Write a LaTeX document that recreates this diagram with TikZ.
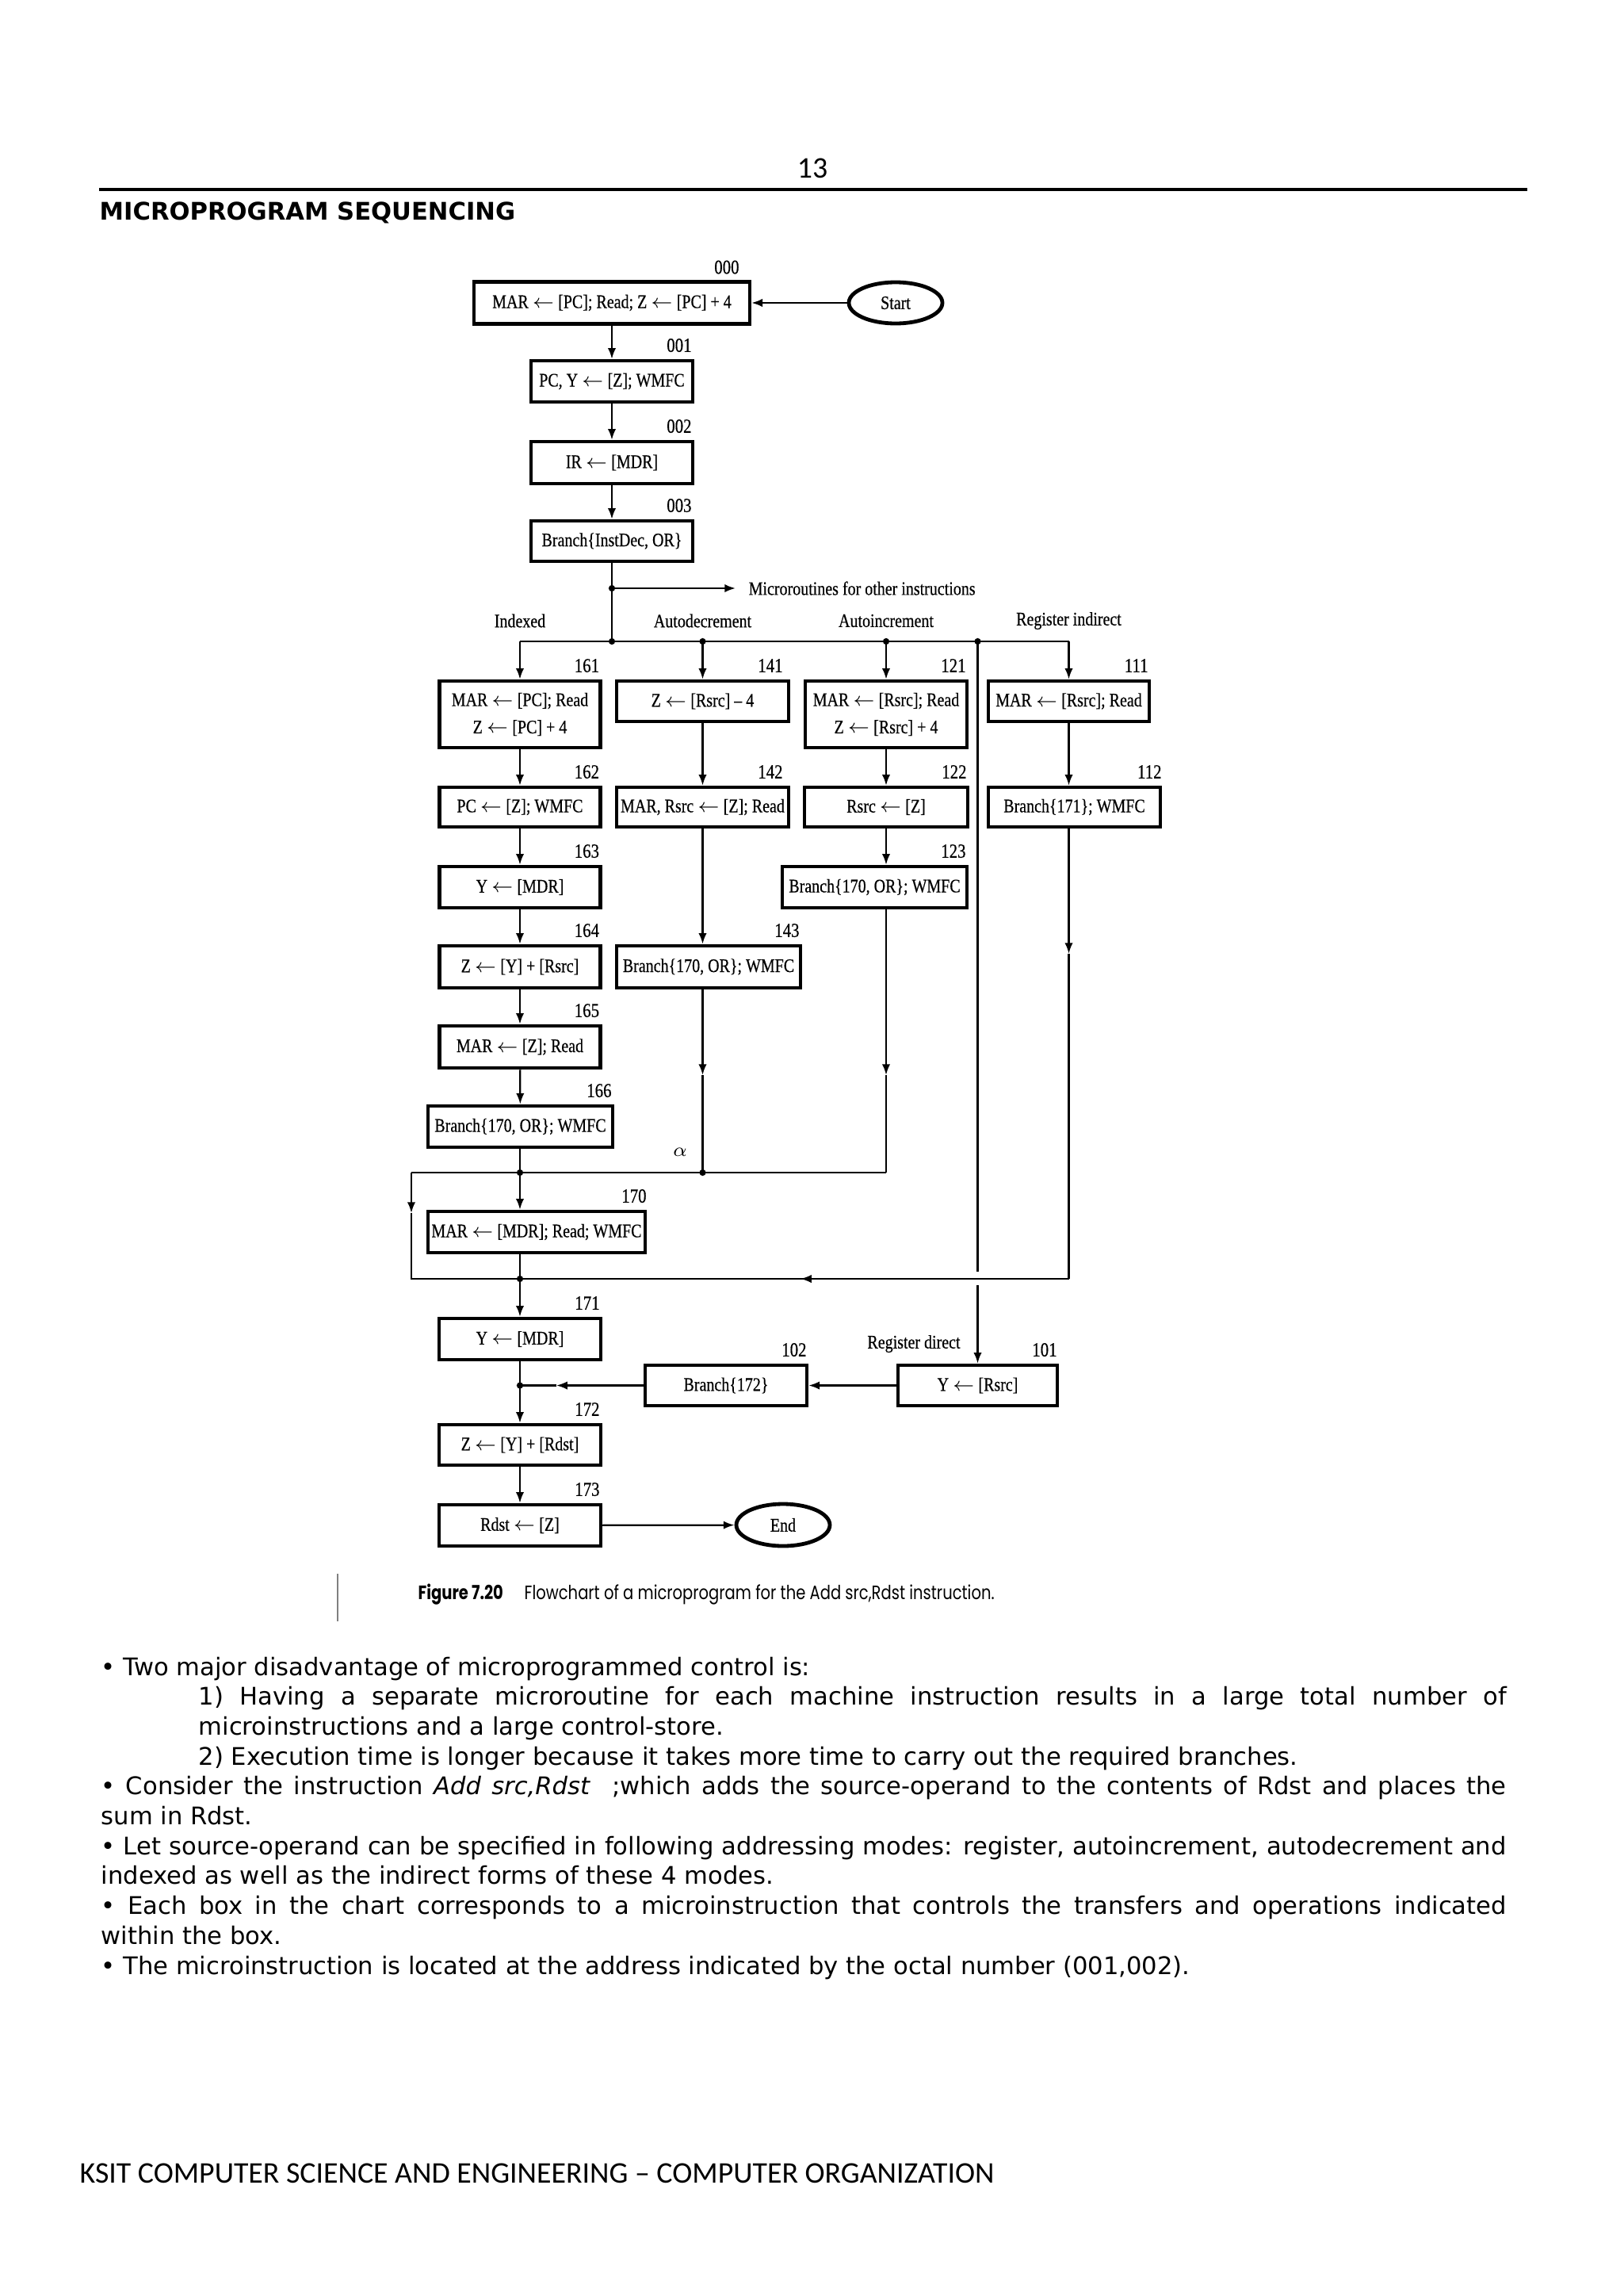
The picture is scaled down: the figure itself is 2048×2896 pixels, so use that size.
\documentclass[tikz,border=0pt]{standalone}
\usepackage{fontspec}
\setmainfont{DejaVu Sans}
\newfontfamily\figfont[FakeStretch=0.83,FakeBold=0.4]{Liberation Serif}
\newfontfamily\calfont{Carlito}
\newfontfamily\capfont[FakeStretch=0.8]{Poppins}
\usetikzlibrary{shapes.geometric,arrows.meta,calc}
\newdimen\pxu \pxu=0.290663pt
\begin{document}
\begin{tikzpicture}[x=0.290663pt,y=-0.290663pt,
  box/.style={draw, line width=1.3pt, inner sep=1pt, align=center,
    font=\figfont\fontsize{7}{10}\selectfont},
  bw/.style={minimum width=#1*\pxu},
  bh/.style={minimum height=#1*\pxu},
  oval/.style={draw, ellipse, line width=1.4pt, inner sep=0pt,
    font=\figfont\fontsize{7}{8}\selectfont},
  ln/.style={line width=0.65pt},
  arr/.style={line width=0.65pt, -{Latex[length=4pt,width=3pt]}},
  addr/.style={font=\figfont\fontsize{7.3}{8}\selectfont, inner sep=0pt, anchor=base east},
  lbl/.style={font=\figfont\fontsize{7}{8}\selectfont, inner sep=0pt},
  body/.style={font=\fontsize{8.9}{10.9}\selectfont, inner sep=0pt, anchor=base west},
  dot/.style={circle, fill=black, inner sep=0pt, minimum size=2.4pt}
]
\useasboundingbox (0,0) rectangle (2048,2896);
\fill[white] (0,0) rectangle (2048,2896);

% ---------- page header ----------
\node[font=\calfont\fontsize{11}{13}\selectfont, inner sep=0pt, anchor=base] (pgno) at (1025,224) {13};
\draw[line width=1pt] (125,239) coordinate (ruleL) -- (1927,239) coordinate (ruleR);
\node[font=\bfseries\fontsize{8.9}{10.9}\selectfont, inner sep=0pt, anchor=base west] (head) at (125,277) {MICROPROGRAM SEQUENCING};

% ---------- flowchart boxes ----------
\node[box,bw=348,bh=53] (b000) at (772,382) {MAR $\leftarrow$ [PC]; Read; Z $\leftarrow$ [PC] + 4};
\node[oval,bw=118,bh=52] (start) at (1130,382) {Start};
\node[box,bw=204,bh=52] (b001) at (772,481) {PC, Y $\leftarrow$ [Z]; WMFC};
\node[box,bw=204,bh=53] (b002) at (772,583.5) {IR $\leftarrow$ [MDR]};
\node[box,bw=204,bh=51] (b003) at (772,682.5) {Branch\{InstDec, OR\}};

\node[box,bw=203,bh=84] (b161) at (656,901) {MAR $\leftarrow$ [PC]; Read\\Z $\leftarrow$ [PC] + 4};
\node[box,bw=217,bh=51] (b141) at (886.5,884.5) {Z $\leftarrow$ [Rsrc] – 4};
\node[box,bw=204,bh=84] (b121) at (1118,901) {MAR $\leftarrow$ [Rsrc]; Read\\Z $\leftarrow$ [Rsrc] + 4};
\node[box,bw=203,bh=51] (b111) at (1348.5,884.5) {MAR $\leftarrow$ [Rsrc]; Read};

\node[box,bw=203,bh=50] (b162) at (656,1018) {PC $\leftarrow$ [Z]; WMFC};
\node[box,bw=217,bh=50] (b142) at (886.5,1018) {MAR, Rsrc $\leftarrow$ [Z]; Read};
\node[box,bw=206,bh=50] (b122) at (1118,1018) {Rsrc $\leftarrow$ [Z]};
\node[box,bw=217,bh=50] (b112) at (1355.5,1018) {Branch\{171\}; WMFC};

\node[box,bw=203,bh=52] (b163) at (656,1119) {Y $\leftarrow$ [MDR]};
\node[box,bw=233,bh=52] (b123) at (1103.5,1119) {Branch\{170, OR\}; WMFC};

\node[box,bw=203,bh=53] (b164) at (656,1219.5) {Z $\leftarrow$ [Y] + [Rsrc]};
\node[box,bw=232,bh=53] (b143) at (894,1219.5) {Branch\{170, OR\}; WMFC};

\node[box,bw=203,bh=53] (b165) at (656,1320.5) {MAR $\leftarrow$ [Z]; Read};
\node[box,bw=233,bh=52] (b166) at (656.5,1421) {Branch\{170, OR\}; WMFC};

\node[box,bw=274,bh=52] (b170) at (677,1554) {MAR $\leftarrow$ [MDR]; Read; WMFC};
\node[box,bw=204,bh=52] (b171) at (656,1689) {Y $\leftarrow$ [MDR]};
\node[box,bw=204,bh=51] (b102) at (916,1747.5) {Branch\{172\}};
\node[box,bw=201,bh=51] (b101) at (1233.5,1747.5) {Y $\leftarrow$ [Rsrc]};
\node[box,bw=204,bh=51] (b172) at (656,1822.5) {Z $\leftarrow$ [Y] + [Rdst]};
\node[box,bw=204,bh=52] (b173) at (656,1924) {Rdst $\leftarrow$ [Z]};
\node[oval,bw=118,bh=53] (end) at (988,1923.5) {End};

% ---------- address labels ----------
\node[addr] (l000) at ($(b000.north east)+(-15,-8)$) {000};
\node[addr] (l001) at ($(b001.north east)+(-3,-9)$) {001};
\node[addr] (l002) at ($(b002.north east)+(-3,-9)$) {002};
\node[addr] (l003) at ($(b003.north east)+(-3,-9)$) {003};
\node[addr] (l161) at ($(b161.north east)+(-3,-9)$) {161};
\node[addr] (l141) at ($(b141.north east)+(-9,-9)$) {141};
\node[addr] (l121) at ($(b121.north east)+(-3,-9)$) {121};
\node[addr] (l111) at ($(b111.north east)+(-3,-9)$) {111};
\node[addr] (l162) at ($(b162.north east)+(-3,-9)$) {162};
\node[addr] (l142) at ($(b142.north east)+(-9,-9)$) {142};
\node[addr] (l122) at ($(b122.north east)+(-3,-9)$) {122};
\node[addr] (l112) at ($(b112.north east)+(0,-9)$) {112};
\node[addr] (l163) at ($(b163.north east)+(-3,-9)$) {163};
\node[addr] (l123) at ($(b123.north east)+(-3,-9)$) {123};
\node[addr] (l164) at ($(b164.north east)+(-3,-9)$) {164};
\node[addr] (l143) at ($(b143.north east)+(-3,-9)$) {143};
\node[addr] (l165) at ($(b165.north east)+(-3,-9)$) {165};
\node[addr] (l166) at ($(b166.north east)+(-3,-9)$) {166};
\node[addr] (l170) at ($(b170.north east)+(0,-9)$) {170};
\node[addr] (l171) at ($(b171.north east)+(-3,-9)$) {171};
\node[addr] (l102) at ($(b102.north east)+(-2,-9)$) {102};
\node[addr] (l101) at ($(b101.north east)+(-2,-9)$) {101};
\node[addr] (l172) at ($(b172.north east)+(-3,-9)$) {172};
\node[addr] (l173) at ($(b173.north east)+(-3,-9)$) {173};

% ---------- other labels ----------
\node[lbl, anchor=west] (micro) at (944,742) {Microroutines for other instructions};
\node[lbl] (tInd) at (656,783) {Indexed};
\node[lbl] (tDec) at (886.5,783) {Autodecrement};
\node[lbl] (tInc) at (1118,783) {Autoincrement};
\node[lbl] (tRI) at (1348.5,783) {Register indirect};
\node[lbl] (tRD) at (1153,1695) {Register direct};
\node[lbl] (alpha) at (858,1453) {$\alpha$};

% ---------- coordinates ----------
\coordinate (j0) at (772,742);
\coordinate (microtip) at (928,742);
\coordinate (busL) at (656,809);
\coordinate (busM) at (772,809);
\coordinate (busD) at (886.5,809);
\coordinate (busI) at (1118,809);
\coordinate (busV) at (1233.5,809);
\coordinate (busR) at (1348.5,809);
\coordinate (gapT) at (1233.5,1604);
\coordinate (gapB) at (1233.5,1621);
\coordinate (jA) at (656,1479);
\coordinate (jD) at (886.5,1479);
\coordinate (jI) at (1118,1479);
\coordinate (jLt) at (519,1479);
\coordinate (mL) at (519,1530);
\coordinate (jLb) at (519,1613);
\coordinate (jB) at (656,1613);
\coordinate (jRb) at (1348.5,1613);
\coordinate (mR) at (1010,1613);
\coordinate (mD) at (886.5,1356);
\coordinate (mI) at (1118,1356);
\coordinate (mRi) at (1348.5,1203);
\coordinate (jC) at (656,1747.5);
\coordinate (mC) at (702,1747.5);

% ---------- connectors ----------
\draw[arr] (start) -- (b000);
\draw[arr] (b000) -- (b001);
\draw[arr] (b001) -- (b002);
\draw[arr] (b002) -- (b003);
\draw[ln] (b003) -- (busM);
\draw[arr] (j0) -- (microtip);
\draw[ln] (busL) -- (busR);
\draw[arr] (busL) -- (b161.north);
\draw[arr] (busD) -- (b141.north);
\draw[arr] (busI) -- (b121.north);
\draw[arr] (busR) -- (b111.north);
\draw[ln] (busV) -- (gapT);
\draw[arr] (gapB) -- (b101.north);

\draw[arr] (b161) -- (b162);
\draw[arr] (b162) -- (b163);
\draw[arr] (b163) -- (b164);
\draw[arr] (b164) -- (b165);
\draw[arr] (b165) -- (b166);
\draw[ln] (b166.south -| jA) -- (jA);
\draw[arr] (jA) -- (jA |- b170.north);

\draw[arr] (b141) -- (b142);
\draw[arr] (b142.south) -- (b142.south |- b143.north);
\draw[arr] (b142.south |- b143.south) -- (mD);
\draw[ln] (mD) -- (jD);

\draw[arr] (b121) -- (b122);
\draw[arr] (b122.south) -- (b122.south |- b123.north);
\draw[arr] (b122.south |- b123.south) -- (mI);
\draw[ln] (mI) -- (jI);

\draw[arr] (b111.south) -- (b111.south |- b112.north);
\draw[arr] (b111.south |- b112.south) -- (mRi);
\draw[ln] (mRi) -- (jRb);

\draw[ln] (jI) -- (jLt);
\draw[arr] (jLt) -- (mL);
\draw[ln] (mL) -- (jLb) -- (jRb);
\draw[arr] (jRb) -- (mR);
\draw[ln] (jA |- b170.south) -- (jB);
\draw[arr] (jB) -- (b171.north);

\draw[arr] (b171) -- (b172);
\draw[arr] (b101) -- (b102);
\draw[arr] (b102) -- (mC);
\draw[ln] (mC) -- (jC);
\draw[arr] (b172) -- (b173);
\draw[arr] (b173) -- (end);

% ---------- junction dots ----------
\foreach \c in {j0,busM,busD,busI,busV,jA,jD,jB,jC}
  \node[dot] at (\c) {};

% ---------- caption ----------
\draw[line width=0.5pt, color=gray] (426,1985) coordinate (capL1) -- (426,2045) coordinate (capL2);
\node[font=\capfont\bfseries\fontsize{7.1}{8}\selectfont, inner sep=0pt, anchor=base west] (figno) at (527,2017) {Figure 7.20};
\node[font=\capfont\fontsize{7.1}{8}\selectfont, inner sep=0pt, anchor=base west] (figcap) at (661,2017) {Flowchart of a microprogram for the Add src,Rdst instruction.};

% ---------- body text ----------
\node[body] (t1) at (127,2113) {• Two major disadvantage of microprogrammed control is:};
\node[body] (t2) at (250,2150.7) {\makebox[1650\pxu][s]{1) Having a separate microroutine for each machine instruction results in a large total number of}};
\node[body] (t3) at (250,2188.4) {microinstructions and a large control-store.};
\node[body] (t4) at (250,2226.1) {2) Execution time is longer because it takes more time to carry out the required branches.};
\node[body] (t5) at (127,2263.8) {\makebox[1773\pxu][s]{• Consider the instruction \textit{Add src,Rdst}\hspace{0.9em};which adds the source-operand to the contents of Rdst and places the}};
\node[body] (t6) at (127,2301.5) {sum in Rdst.};
\node[body] (t7) at (127,2339.2) {\makebox[1773\pxu][s]{• Let source-operand can be specified in following addressing modes: register, autoincrement, autodecrement and}};
\node[body] (t8) at (127,2376.9) {indexed as well as the indirect forms of these 4 modes.};
\node[body] (t9) at (127,2414.6) {\makebox[1773\pxu][s]{• Each box in the chart corresponds to a microinstruction that controls the transfers and operations indicated}};
\node[body] (t10) at (127,2452.3) {within the box.};
\node[body] (t11) at (127,2490) {• The microinstruction is located at the address indicated by the octal number (001,002).};

% ---------- footer ----------
\node[font=\calfont\fontsize{11}{13}\selectfont, inner sep=0pt, anchor=base west] (foot) at (100,2753) {KSIT COMPUTER SCIENCE AND ENGINEERING – COMPUTER ORGANIZATION};
\end{tikzpicture}
\end{document}
